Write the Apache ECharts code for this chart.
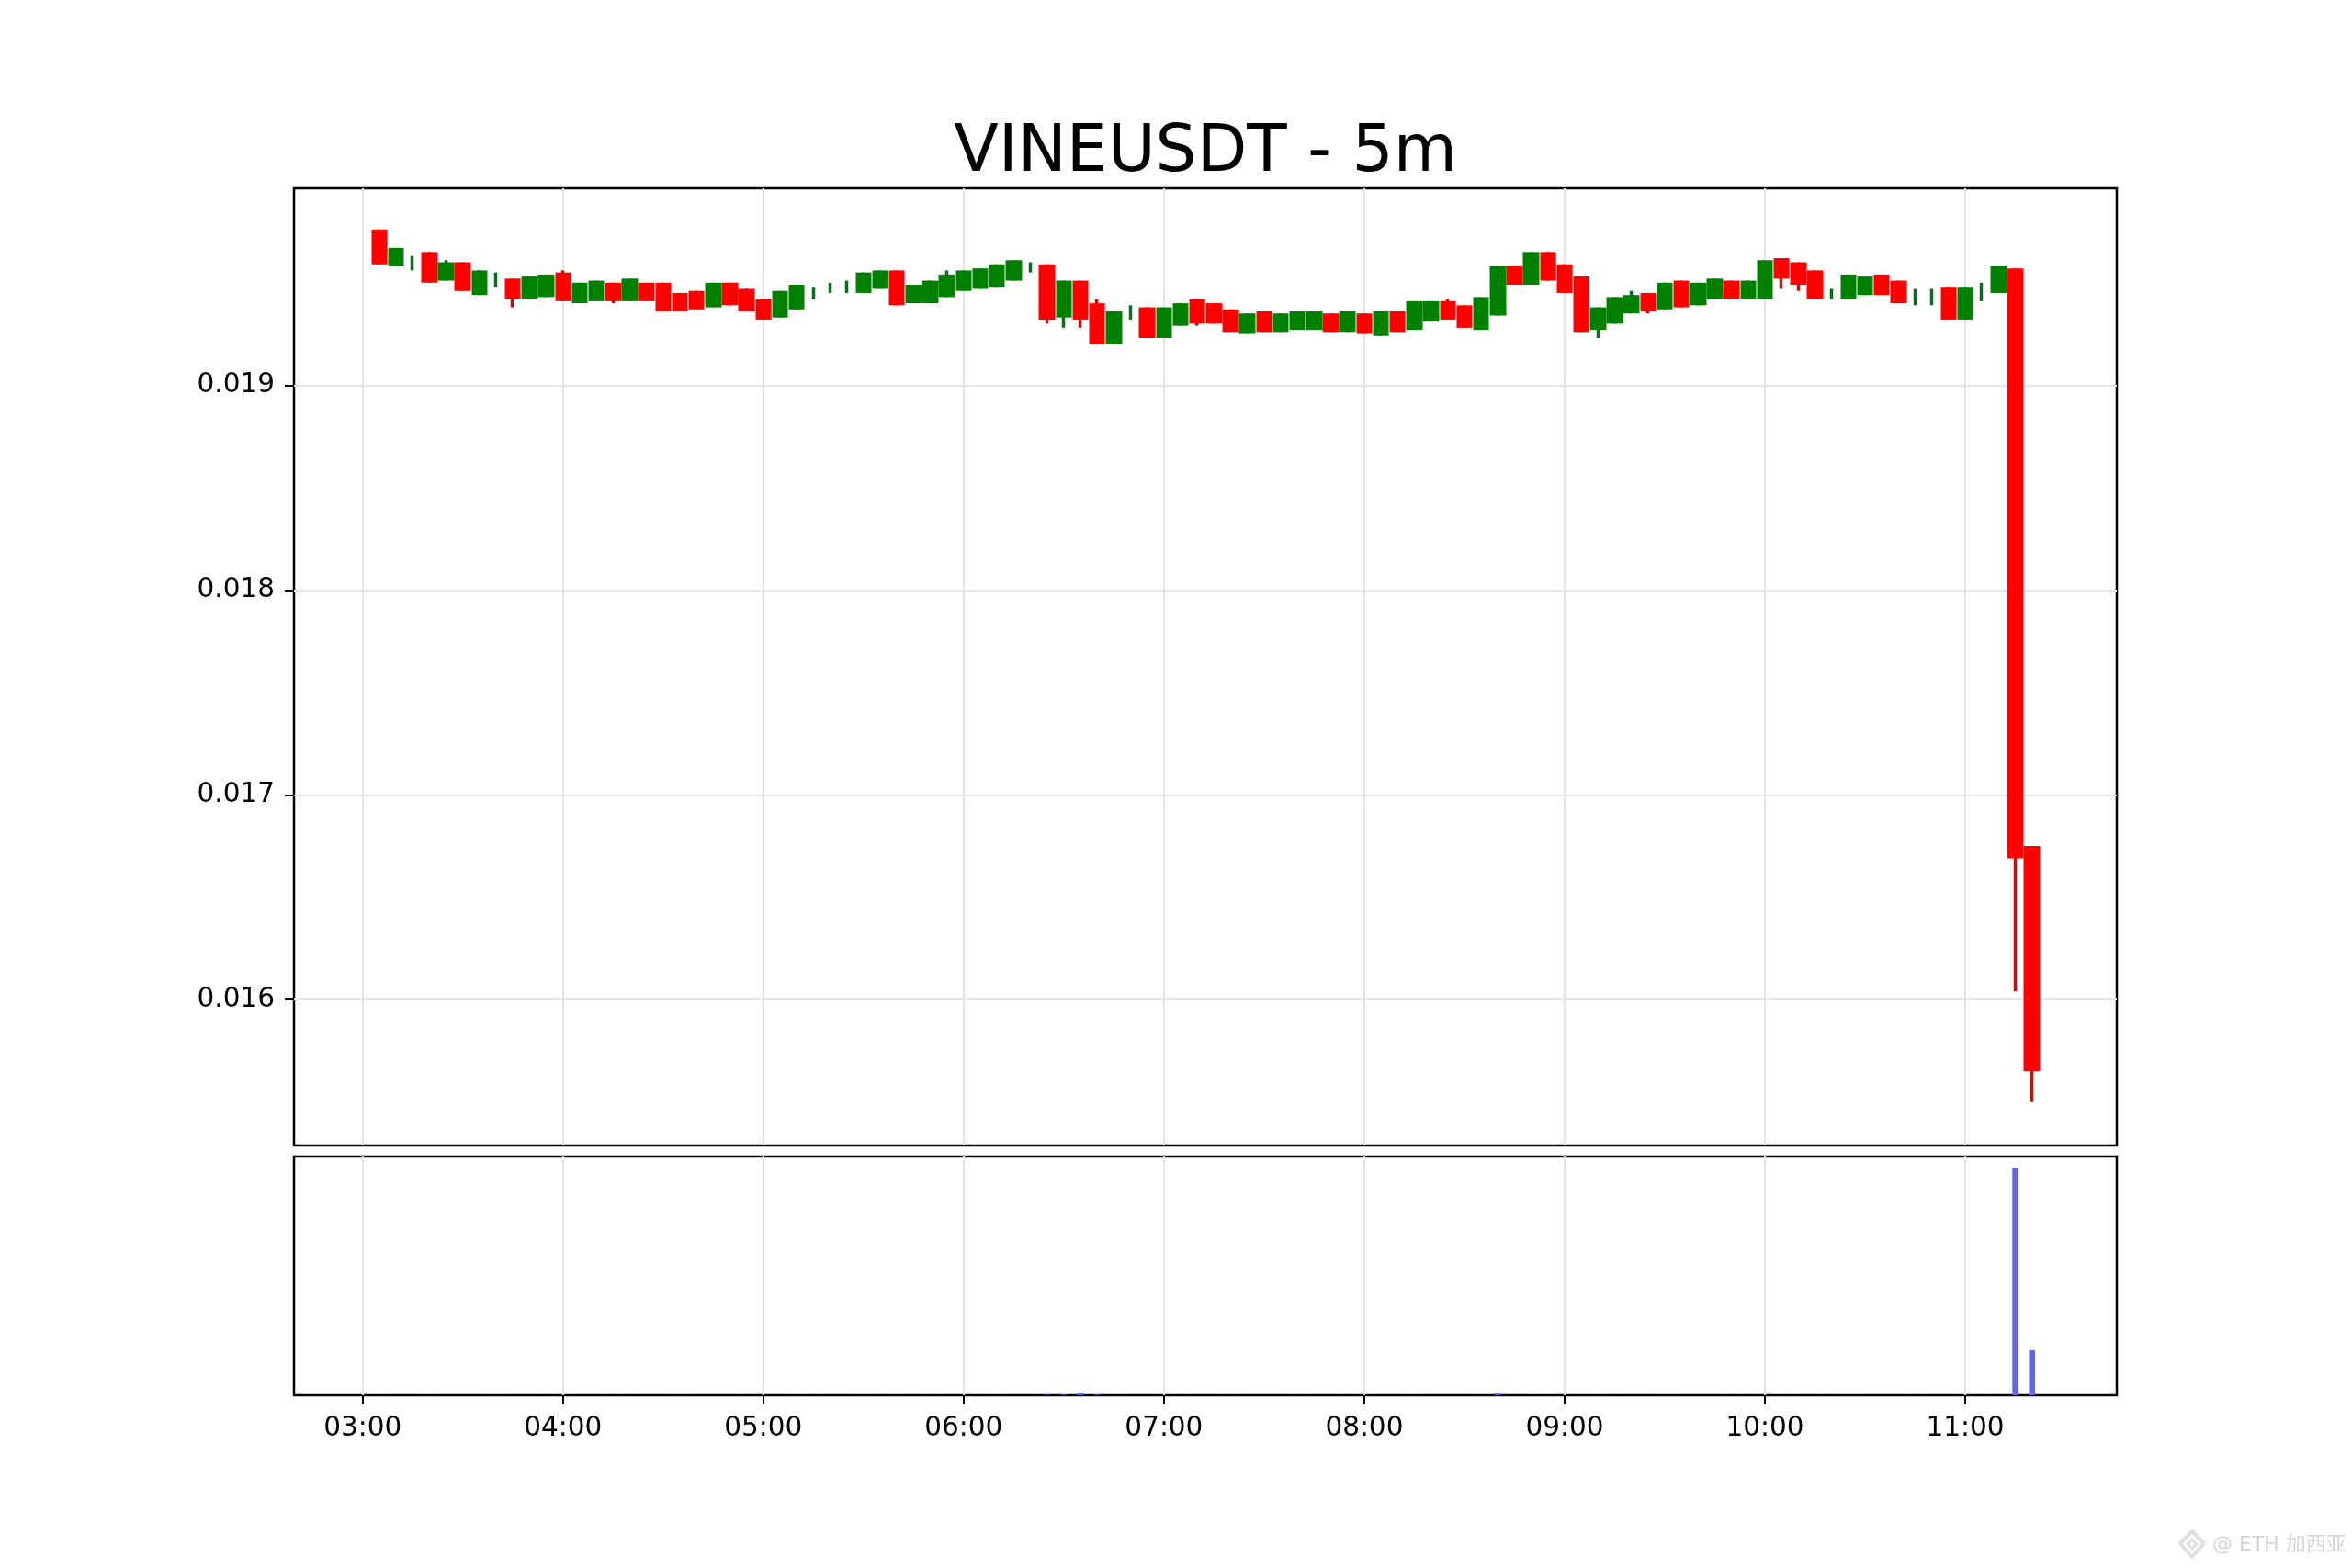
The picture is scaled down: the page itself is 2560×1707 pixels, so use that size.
<!DOCTYPE html>
<html><head><meta charset="utf-8">
<style>html,body{margin:0;padding:0;background:#fff}#c{width:2560px;height:1707px}</style>
<script src="https://cdn.jsdelivr.net/npm/echarts@6/dist/echarts.min.js"></script>
</head><body><div id="c"></div>
<script>
const titleText = 'VINEUSDT - 5m';
const watermark = '@ ETH 加西亚';
const times = ['03:05','03:10','03:15','03:20','03:25','03:30','03:35','03:40','03:45','03:50','03:55','04:00',
'04:05','04:10','04:15','04:20','04:25','04:30','04:35','04:40','04:45','04:50','04:55','05:00',
'05:05','05:10','05:15','05:20','05:25','05:30','05:35','05:40','05:45','05:50','05:55','06:00',
'06:05','06:10','06:15','06:20','06:25','06:30','06:35','06:40','06:45','06:50','06:55','07:00',
'07:05','07:10','07:15','07:20','07:25','07:30','07:35','07:40','07:45','07:50','07:55','08:00',
'08:05','08:10','08:15','08:20','08:25','08:30','08:35','08:40','08:45','08:50','08:55','09:00',
'09:05','09:10','09:15','09:20','09:25','09:30','09:35','09:40','09:45','09:50','09:55','10:00',
'10:05','10:10','10:15','10:20','10:25','10:30','10:35','10:40','10:45','10:50','10:55','11:00',
'11:05','11:10','11:15','11:20'];
const opens = [.01976,.01958,.01960,.01965,.01951,.01960,.01944,.01952,.01952,.01942,
.01943,.01955,.01940,.01941,.01950,.01941,.01950,.01950,.01945,.01946,
.01938,.01950,.01947,.01942,.01933,.01937,.01945,.01947,.01948,.01945,
.01947,.01956,.01940,.01940,.01943,.01946,.01947,.01948,.01951,.01957,
.01959,.01933,.01951,.01940,.01920,.01935,.01938,.01923,.01929,.01942,
.01940,.01937,.01925,.01936,.01926,.01927,.01927,.01935,.01926,.01935,
.01924,.01936,.01927,.01931,.01941,.01939,.01927,.01934,.01958,.01949,
.01965,.01959,.01953,.01927,.01930,.01935,.01945,.01937,.01951,.01939,
.01942,.01951,.01942,.01942,.01962,.01960,.01956,.01945,.01942,.01944,
.01954,.01951,.01943,.01943,.01948,.01932,.01946,.01945,.01957,.01675];
const closes = [.01959,.01967,.01960,.01950,.01960,.01946,.01956,.01952,.01942,.01953,
.01954,.01941,.01950,.01951,.01941,.01952,.01941,.01936,.01936,.01937,
.01950,.01939,.01936,.01932,.01946,.01949,.01945,.01947,.01948,.01955,
.01956,.01939,.01949,.01951,.01954,.01956,.01957,.01959,.01961,.01957,
.01932,.01951,.01932,.01920,.01936,.01935,.01923,.01938,.01940,.01930,
.01930,.01926,.01935,.01926,.01935,.01936,.01936,.01926,.01936,.01925,
.01936,.01926,.01941,.01941,.01932,.01928,.01943,.01958,.01949,.01965,
.01951,.01945,.01926,.01938,.01943,.01944,.01936,.01950,.01938,.01950,
.01952,.01942,.01951,.01961,.01952,.01949,.01942,.01945,.01954,.01953,
.01944,.01940,.01943,.01943,.01932,.01948,.01946,.01958,.01669,.01565];
const lows = [.01959,.01958,.01956,.01950,.01951,.01946,.01944,.01948,.01938,.01942,
.01943,.01941,.01940,.01941,.01940,.01941,.01941,.01936,.01936,.01937,
.01938,.01939,.01936,.01932,.01933,.01937,.01942,.01945,.01945,.01945,
.01947,.01939,.01940,.01940,.01943,.01946,.01947,.01948,.01951,.01955,
.01930,.01928,.01928,.01920,.01920,.01932,.01923,.01923,.01929,.01929,
.01930,.01926,.01925,.01926,.01926,.01927,.01927,.01926,.01926,.01925,
.01924,.01926,.01927,.01931,.01932,.01928,.01927,.01934,.01949,.01949,
.01951,.01945,.01926,.01923,.01930,.01935,.01935,.01937,.01938,.01939,
.01942,.01942,.01942,.01942,.01947,.01946,.01942,.01942,.01942,.01944,
.01944,.01940,.01939,.01939,.01932,.01932,.01941,.01945,.01604,.01550];
const highs = [.01976,.01967,.01963,.01965,.01961,.01960,.01956,.01955,.01952,.01953,
.01954,.01956,.01950,.01951,.01950,.01952,.01950,.01950,.01945,.01946,
.01950,.01950,.01947,.01942,.01946,.01949,.01948,.01950,.01951,.01955,
.01956,.01956,.01949,.01951,.01956,.01956,.01957,.01959,.01961,.01960,
.01959,.01951,.01951,.01942,.01936,.01939,.01938,.01938,.01940,.01942,
.01940,.01937,.01935,.01936,.01935,.01936,.01936,.01935,.01936,.01935,
.01936,.01936,.01941,.01941,.01942,.01939,.01943,.01958,.01958,.01965,
.01965,.01959,.01953,.01938,.01943,.01946,.01945,.01950,.01951,.01950,
.01952,.01951,.01951,.01961,.01962,.01960,.01956,.01947,.01954,.01953,
.01954,.01951,.01947,.01947,.01948,.01948,.01950,.01958,.01957,.01675];
const volumes = [.3,.3,.2,.3,.2,.3,.2,.2,.3,.2,.2,.3,.2,.2,.2,.2,.2,.3,.2,.2,.2,.2,.2,.3,
.2,.3,.2,.2,.2,.3,.2,.3,.2,.2,.2,.3,.3,.3,.3,.2,2,3,12,3,.3,.2,.3,.3,
.2,.3,.2,.2,.2,.2,.2,.2,.2,.2,.2,.2,.2,.2,.3,.2,.2,.3,.5,10,.3,.5,.3,.3,
.5,.3,.2,.2,.2,.2,.2,.2,.2,.2,.2,.5,.3,.3,.3,.2,.2,.2,.2,.2,.2,.2,.3,.3,.2,.3,1000,198];
const xTickValues = [180,240,300,360,420,480,540,600,660];
const xTickLabels = ['03:00','04:00','05:00','06:00','07:00','08:00','09:00','10:00','11:00'];
const yTickValues = [0.016,0.017,0.018,0.019];
const yTickLabels = ['0.016','0.017','0.018','0.019'];

const toMin = t => { const p = t.split(':'); return +p[0]*60 + +p[1]; };
const xs = times.map(toMin);
const wickData = xs.map((x,i)=>[x,opens[i],closes[i],lows[i],highs[i]]);
const bodyData = xs.map((x,i)=>[x,opens[i],closes[i],Math.min(opens[i],closes[i]),Math.max(opens[i],closes[i])]);
const volData = xs.map((x,i)=>[x,volumes[i]]);

const FONT = '"DejaVu Sans"';
const GRID = {color:'#e4e4e4',width:2};
const XMIN = 159.44, XMAX = 705.4;
const chart = echarts.init(document.getElementById('c'),null,{renderer:'canvas',width:2560,height:1707});
chart.setOption({
  backgroundColor:'#fff',
  animation:false,
  title:[
    {text:titleText,left:1312,top:132,padding:0,textAlign:'center',textStyle:{fontFamily:FONT,fontSize:71,fontWeight:'normal',color:'#000'}},
    {text:watermark,left:2408,top:1671,padding:0,textStyle:{fontFamily:FONT+',"Noto Sans CJK SC"',fontSize:22,fontWeight:'normal',color:'#d4d4d4'}}
  ],
  graphic:[
    {type:'polygon',shape:{points:[[2386,1667],[2399,1680],[2386,1695],[2373,1680]]},style:{fill:'none',stroke:'#e0e0e0',lineWidth:4}},
    {type:'polygon',shape:{points:[[2386,1676],[2391,1681],[2386,1686],[2381,1681]]},style:{fill:'none',stroke:'#e0e0e0',lineWidth:3}}
  ],
  grid:[
    {left:320,top:205,width:1984,height:1042,show:true,borderColor:'#000',borderWidth:2.5,backgroundColor:'#fff'},
    {left:320,top:1259,width:1984,height:260,show:true,borderColor:'#000',borderWidth:2.5,backgroundColor:'#fff'}
  ],
  xAxis:[
    {type:'value',gridIndex:0,min:XMIN,max:XMAX,
     axisLine:{show:false},axisTick:{show:false,customValues:xTickValues},
     axisLabel:{show:false,customValues:xTickValues},
     splitLine:{show:true,lineStyle:GRID}},
    {type:'value',gridIndex:1,min:XMIN,max:XMAX,
     axisLine:{show:false},axisTick:{show:true,length:10,customValues:xTickValues,lineStyle:{color:'#000',width:2}},
     axisLabel:{show:true,customValues:xTickValues,margin:21,color:'#000',fontFamily:FONT,fontSize:29.5,
       showMinLabel:true,showMaxLabel:true,
       formatter:v=>xTickLabels[xTickValues.indexOf(v)]},
     splitLine:{show:true,lineStyle:GRID}}
  ],
  yAxis:[
    {type:'value',gridIndex:0,scale:true,min:0.015288,max:0.019961,
     axisLine:{show:false},axisTick:{show:true,length:10,customValues:yTickValues,lineStyle:{color:'#000',width:2}},
     axisLabel:{show:true,customValues:yTickValues,margin:21,padding:[3,0,0,0],color:'#000',fontFamily:FONT,fontSize:29.5,
       formatter:v=>yTickLabels[yTickValues.indexOf(v)]},
     splitLine:{show:true,lineStyle:GRID}},
    {type:'value',gridIndex:1,min:0,max:1048,
     axisLine:{show:false},axisTick:{show:false},axisLabel:{show:false},splitLine:{show:false}}
  ],
  series:[
    {name:'wick',type:'candlestick',xAxisIndex:0,yAxisIndex:0,z:2,barWidth:1,data:wickData,encode:{x:0,y:[1,2,3,4]},
     itemStyle:{color:'#b81414',color0:'#b81414',colorDoji:'#0a6e1e',borderColor:'#0a6e1e',borderColor0:'#b81414',borderColorDoji:'#0a6e1e',borderWidth:3.5}},
    {name:'body',type:'candlestick',xAxisIndex:0,yAxisIndex:0,z:3,barWidth:18,data:bodyData,encode:{x:0,y:[1,2,3,4]},
     itemStyle:{color:'#008000',color0:'#ff0000',colorDoji:'#008000',borderColor:'#008000',borderColor0:'#ff0000',borderColorDoji:'#008000',borderWidth:0}},
    {name:'volume',type:'bar',xAxisIndex:1,yAxisIndex:1,z:3,barWidth:6.5,data:volData,itemStyle:{color:'#6666dd'}}
  ]
});
</script></body></html>
